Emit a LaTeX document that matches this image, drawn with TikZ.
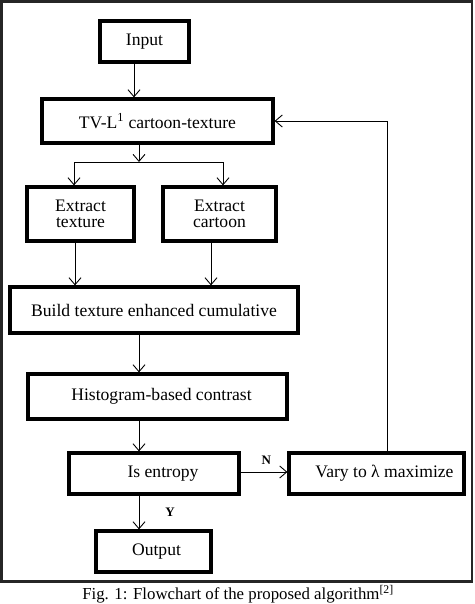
\documentclass[tikz,border=0pt]{standalone}
\usepackage{fontspec}
\setmainfont{Liberation Serif}
\usetikzlibrary{arrows.meta}
\begin{document}
\begin{tikzpicture}[x=1pt,y=-1pt,
  box/.style={draw=black,line width=3.2pt,rectangle,inner sep=0pt,align=center,font=\fontsize{17.6}{18}\selectfont},
  conn/.style={line width=0.9pt,-{Straight Barb[length=7pt,width=12pt,line width=0.9pt]}},
  plain/.style={line width=0.9pt},
  lbl/.style={font=\fontsize{13}{14}\selectfont\bfseries,inner sep=0pt}]
\useasboundingbox (0,0) rectangle (474,604);
\fill[white] (0,0) rectangle (474,604);
\draw[line width=2.4pt,black!85] (1.5,1.5) rectangle (472,581.5);
% boxes
\node[box,minimum width=89pt,minimum height=41pt] (in) at (144.5,41.5) {Input};
\node[box,minimum width=231pt,minimum height=44pt] (tv) at (157.5,121) {TV-L\textsuperscript{1} cartoon-texture};
\node[box,minimum width=107pt,minimum height=54pt] (et) at (80.5,214) {Extract\\[-2pt]texture};
\node[box,minimum width=113pt,minimum height=54pt] (ec) at (219.5,214) {Extract\\[-2pt]cartoon};
\node[box,minimum width=288pt,minimum height=46pt] (bu) at (154,310) {Build texture enhanced cumulative};
\node[box,minimum width=259pt,minimum height=45pt] (hi) at (157.5,396.5) {\hspace*{8pt}Histogram-based contrast};
\node[box,minimum width=170pt,minimum height=41pt] (ie) at (154,473.5) {\hspace*{18pt}Is entropy};
\node[box,minimum width=175pt,minimum height=41pt] (va) at (376.5,473.5) {\hspace*{16pt}Vary to λ maximize};
\node[box,minimum width=115pt,minimum height=41pt] (ou) at (153.5,551.5) {\hspace*{6pt}Output};
% connectors
\coordinate (split) at (139,162);
\coordinate (sl) at (74,162);
\coordinate (sr) at (223,162);
\coordinate (fb) at (387,121);
\draw[conn] (in.south -| 134,0) -- (tv.north -| 134,0);
\draw[conn] (tv.south -| split) -- (split);
\draw[plain] (sl) -- (sr);
\draw[conn] (sl) -- (et.north -| sl);
\draw[conn] (sr) -- (ec.north -| sr);
\draw[conn] (et.south -| 75,0) -- (bu.north -| 75,0);
\draw[conn] (ec.south -| 211,0) -- (bu.north -| 211,0);
\draw[conn] (bu.south -| 139,0) -- (hi.north -| 139,0);
\draw[conn] (hi.south -| 139,0) -- (ie.north -| 139,0);
\draw[conn] (ie.east |- 0,472) -- (va.west |- 0,472) node[lbl,pos=0.55,above=7pt] (n) {N};
\draw[conn] (ie.south -| 139,0) -- (ou.north -| 139,0) node[lbl,midway,right=26pt] (y) {Y};
\draw[plain] (va.north -| fb) -- (fb);
\draw[conn] (fb) -- (tv.east |- fb);
% caption
\node[font=\fontsize{16.8}{18}\selectfont,inner sep=0pt] (cap) at (238,594) {Fig. 1: Flowchart of the proposed algorithm\textsuperscript{[2]}};
\end{tikzpicture}
\end{document}
